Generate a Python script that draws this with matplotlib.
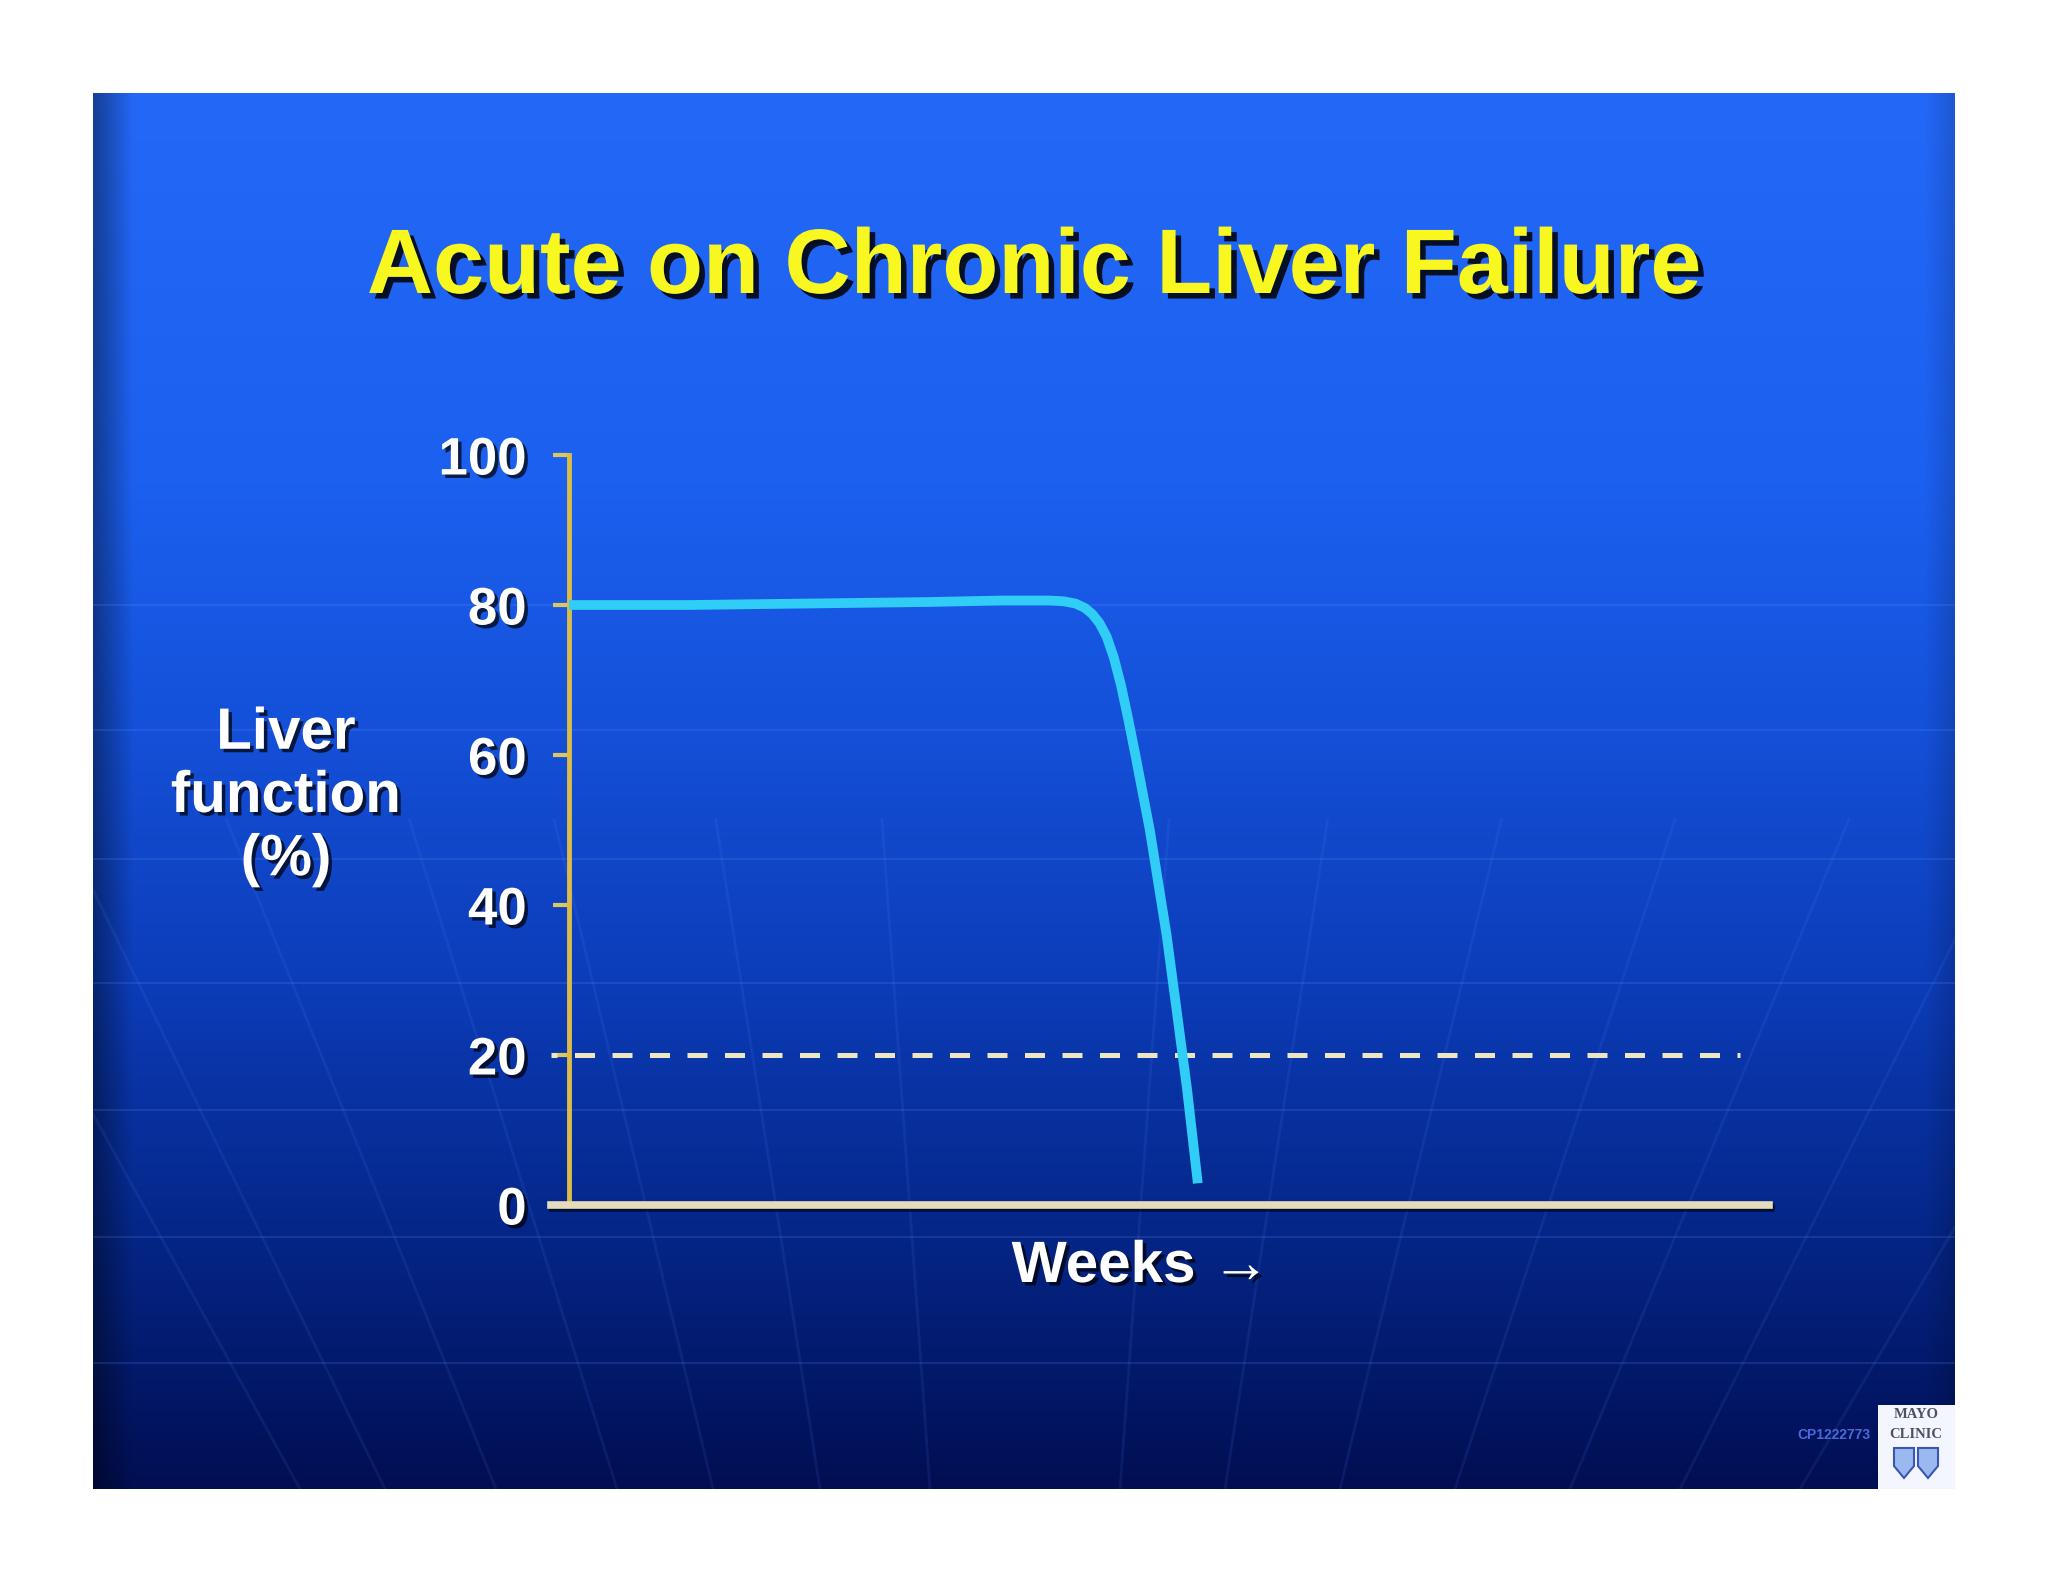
import matplotlib
matplotlib.use('Agg')
import matplotlib.pyplot as plt
import matplotlib.patheffects as pe
from matplotlib.patches import Rectangle, Polygon
import numpy as np

plt.rcParams['font.family'] = ['Liberation Sans', 'DejaVu Sans']
plt.rcParams['font.weight'] = 'bold'

# liver function curve (x in arbitrary "weeks" units)
weeks = [0.0, 1.0, 2.0, 3.0, 3.6, 4.0, 4.12, 4.22, 4.30, 4.36, 4.42, 4.48,
         4.54, 4.60, 4.66, 4.72, 4.84, 4.98, 5.08, 5.15, 5.24]
liver_function = [80.0, 80.0, 80.2, 80.4, 80.6, 80.6, 80.5, 80.2, 79.6, 78.8,
                  77.6, 75.8, 73.0, 69.3, 64.8, 60.0, 50.0, 36.0, 24.0, 15.5, 2.9]

threshold = 20
threshold_span = (-0.15, 9.76)
x_limits = (-0.15, 10.0)
y_ticks = [0, 20, 40, 60, 80, 100]

title = 'Acute on Chronic Liver Failure'
y_label = 'Liver\nfunction\n(%)'
x_label = 'Weeks \u2192'

W, H = 2048, 1582
fig = plt.figure(figsize=(W / 100, H / 100), dpi=100)
fig.patch.set_facecolor('white')

def fx(px):
    return px / W

def fy(py):
    return 1 - py / H

# slide background (gradient)
sx0, sx1, sy0, sy1 = 93, 1955, 93, 1489
bg = fig.add_axes([fx(sx0), fy(sy1), fx(sx1 - sx0), (sy1 - sy0) / H])
bg.set_axis_off()
nh, nw = sy1 - sy0, sx1 - sx0
t = np.linspace(0, 1, nh)
stops = [0, 0.28, 0.46, 0.64, 0.8, 1.0]
r = np.interp(t, stops, [36, 28, 20, 12, 5, 1])
g = np.interp(t, stops, [104, 96, 80, 60, 40, 14])
b = np.interp(t, stops, [248, 240, 216, 184, 140, 82])
img = np.stack([r, g, b], axis=-1)[:, None, :] * np.ones((1, nw, 1))
u = np.arange(nw)
shade = np.interp(u, [0, 40, nw - 30, nw - 1], [0.6, 1.0, 1.0, 0.85])
img = img * shade[None, :, None]
bg.imshow(img.astype(np.uint8), extent=(sx0, sx1, sy1, sy0), aspect='auto')
bg.set_xlim(sx0, sx1)
bg.set_ylim(sy1, sy0)

# faint globe lines
for yy in [605, 730, 859, 983, 1110, 1237, 1363]:
    bg.plot([sx0, sx1], [yy, yy], color='#6fa0ff', alpha=0.16, lw=1.5)
vp = (1024, 2800)
for xb in [300, 385, 496, 617, 713, 820, 930, 1120, 1225, 1340, 1455, 1570, 1680, 1800, 1900]:
    ytop = 820
    k = (xb - vp[0]) / (sy1 - vp[1])
    xt = xb + k * (ytop - sy1)
    bg.plot([xt, xb], [ytop, sy1], color='#5a8cff', alpha=0.11, lw=2)

# main axes
ax_l, ax_r = 551, 1769
ax_t, ax_b = 440, 1220
ax = fig.add_axes([fx(ax_l), fy(ax_b), fx(ax_r - ax_l), (ax_b - ax_t) / H])
ax.patch.set_alpha(0)
ax.set_xlim(*x_limits)
ax.set_ylim(-2, 102)

shadow = [pe.withSimplePatchShadow(offset=(2.5, -2.5), shadow_rgbFace='black', alpha=0.7)]

ax.hlines(threshold, *threshold_span, colors='#ece6c2', linewidth=3.6,
          linestyles=(2.8, (4, 3.5)), zorder=3)
ax.plot(weeks, liver_function, color='#30cdf6', linewidth=7,
        solid_joinstyle='round', solid_capstyle='butt', zorder=4)

for s in ['top', 'right']:
    ax.spines[s].set_visible(False)
ax.spines['left'].set_position(('data', 0))
ax.spines['left'].set_bounds(0, 100)
ax.spines['left'].set_color('#dcbc48')
ax.spines['left'].set_linewidth(3.5)
ax.spines['bottom'].set_position(('data', 0))
ax.spines['bottom'].set_color('#e6dcbc')
ax.spines['bottom'].set_linewidth(5.5)
ax.spines['bottom'].set_zorder(5)
ax.spines['bottom'].set_path_effects(
    [pe.SimpleLineShadow(offset=(1.5, -2.5), shadow_color='black', alpha=0.6), pe.Normal()])

ax.set_xticks([])
ax.set_yticks(y_ticks)
ax.set_yticklabels([str(v) for v in y_ticks])
ax.tick_params(axis='y', direction='out', length=11.5, width=3, color='#dcc860',
               pad=19, labelsize=38, labelcolor='white')
for lbl in ax.get_yticklabels():
    lbl.set_fontweight('bold')
    lbl.set_path_effects(shadow)

fig.text(fx(1034), fy(293), title, ha='center', va='baseline', fontsize=66,
         fontweight='bold', color='#f8f820',
         path_effects=[pe.withSimplePatchShadow(offset=(4, -4), shadow_rgbFace='black', alpha=0.85)])
fig.text(fx(286), fy(797), y_label, ha='center', va='center', multialignment='center',
         fontsize=42, fontweight='bold', color='white', linespacing=1.22,
         path_effects=shadow)
fig.text(fx(1141), fy(1267), x_label, ha='center', va='center', fontsize=42,
         fontweight='bold', color='white', path_effects=shadow)

# logo corner
fig.patches.append(Rectangle((fx(1878), fy(1489)), fx(77), (1489 - 1405) / H,
                             transform=fig.transFigure, facecolor='#f4f6ff', edgecolor='none'))
fig.text(fx(1916), fy(1415), 'MAYO', ha='center', va='center', fontsize=10.5,
         family='Liberation Serif', color='#505060')
fig.text(fx(1916), fy(1434), 'CLINIC', ha='center', va='center', fontsize=10.5,
         family='Liberation Serif', color='#505060')
fig.text(fx(1834), fy(1435), 'CP1222773', ha='center', va='center', fontsize=10,
         color='#4a68d8')
for cx in [1904, 1928]:
    fig.patches.append(Polygon([(fx(cx - 10), fy(1448)), (fx(cx + 10), fy(1448)),
                                (fx(cx + 10), fy(1466)), (fx(cx), fy(1478)),
                                (fx(cx - 10), fy(1466))],
                               closed=True, transform=fig.transFigure,
                               facecolor='#9bb8f0', edgecolor='#3a58b0', linewidth=1.5))

fig.savefig('out.png', dpi=100, facecolor='white')
